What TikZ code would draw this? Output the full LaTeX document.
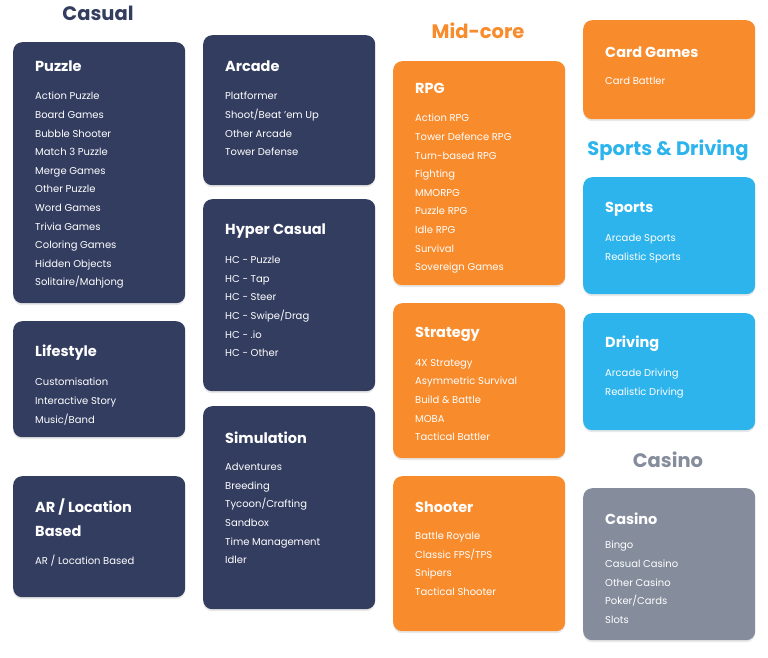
\documentclass[tikz,border=0pt]{standalone}
\usepackage{fontspec}
\setmainfont{Poppins}
\usetikzlibrary{shadows}
\definecolor{navy}{HTML}{333D60}
\definecolor{orng}{HTML}{F88B2C}
\definecolor{sky}{HTML}{2DB4EC}
\definecolor{gry}{HTML}{858C9C}
\tikzset{
  card/.style={fill=#1,rounded corners=9pt,anchor=north west,inner sep=0pt,
    drop shadow={opacity=0.18,shadow xshift=0pt,shadow yshift=-2pt}},
  ttl/.style={anchor=west,text=white,font=\fontsize{14.5}{24}\selectfont\bfseries,align=left,inner sep=0pt},
  itm/.style={anchor=north west,text=white,font=\fontsize{10}{18.6}\selectfont,align=left,inner sep=0pt},
  hd/.style={font=\fontsize{19.5}{22}\selectfont\bfseries,text=#1}
}
\newcommand{\crd}[6]{\node[card=#6,minimum width=#4pt,minimum height=#5pt] (#1) at (#2pt,-#3pt) {};}
\begin{document}
\begin{tikzpicture}[x=1pt,y=1pt]
\useasboundingbox (0,0) rectangle (768,-658);
\node[hd=navy] (hcas) at (98,-13) {Casual};
\node[hd=orng] (hmid) at (478,-31) {Mid-core};
\node[hd=sky] (hspd) at (668,-150) {Sports \& Driving};
\node[hd=gry] (hcsn) at (668,-460) {Casino};
\crd{puz}{13}{42}{172}{261}{navy}
\crd{lif}{13}{321}{172}{116}{navy}
\crd{ar}{13}{476}{172}{121}{navy}
\crd{arc}{203}{35}{172}{150}{navy}
\crd{hc}{203}{199}{172}{192}{navy}
\crd{sim}{203}{406}{172}{203}{navy}
\crd{rpg}{393}{61}{172}{224}{orng}
\crd{str}{393}{303}{172}{155}{orng}
\crd{sho}{393}{476}{172}{155}{orng}
\crd{cg}{583}{20}{172}{99}{orng}
\crd{spo}{583}{177}{172}{117}{sky}
\crd{drv}{583}{313}{172}{117}{sky}
\crd{cas}{583}{488}{172}{152}{gry}
% titles
\node[ttl] (tpuz) at (35,-66) {Puzzle};
\node[ttl] (tarc) at (225,-66) {Arcade};
\node[ttl] (thc) at (225,-231) {Hyper Casual};
\node[ttl] (tlif) at (35,-353) {Lifestyle};
\node[ttl] (tsim) at (225,-438) {Simulation};
\node[ttl] (tar) at (35,-518) {AR / Location\\Based};
\node[ttl] (trpg) at (415,-88) {RPG};
\node[ttl] (tstr) at (415,-334) {Strategy};
\node[ttl] (tsho) at (415,-507) {Shooter};
\node[ttl] (tcg) at (605,-52) {Card Games};
\node[ttl] (tspo) at (605,-209) {Sports};
\node[ttl] (tdrv) at (605,-344) {Driving};
\node[ttl] (tcas) at (605,-519) {Casino};
% items
\tikzset{il/.style={itm,anchor=north west}}
\node[il] (ipuz) at (35,-92) {Action Puzzle\\Board Games\\Bubble Shooter\\Match 3 Puzzle\\Merge Games\\Other Puzzle\\Word Games\\Trivia Games\\Coloring Games\\Hidden Objects\\Solitaire/Mahjong};
\node[il] (iarc) at (225,-92) {Platformer\\Shoot/Beat 'em Up\\Other Arcade\\Tower Defense};
\node[il] (ihc) at (225,-256) {HC - Puzzle\\HC - Tap\\HC - Steer\\HC - Swipe/Drag\\HC - .io\\HC - Other};
\node[il] (ilif) at (35,-378) {Customisation\\Interactive Story\\Music/Band};
\node[il] (isim) at (225,-463) {Adventures\\Breeding\\Tycoon/Crafting\\Sandbox\\Time Management\\Idler};
\node[il] (iar) at (35,-555) {AR / Location Based};
\node[il] (irpg) at (415,-114) {Action RPG\\Tower Defence RPG\\Turn-based RPG\\Fighting\\MMORPG\\Puzzle RPG\\Idle RPG\\Survival\\Sovereign Games};
\node[il] (istr) at (415,-359) {4X Strategy\\Asymmetric Survival\\Build \& Battle\\MOBA\\Tactical Battler};
\node[il] (isho) at (415,-532) {Battle Royale\\Classic FPS/TPS\\Snipers\\Tactical Shooter};
\node[il] (icg) at (605,-77) {Card Battler};
\node[il] (ispo) at (605,-234) {Arcade Sports\\Realistic Sports};
\node[il] (idrv) at (605,-369) {Arcade Driving\\Realistic Driving};
\node[il] (icas) at (605,-541) {Bingo\\Casual Casino\\Other Casino\\Poker/Cards\\Slots};
\end{tikzpicture}
\end{document}
